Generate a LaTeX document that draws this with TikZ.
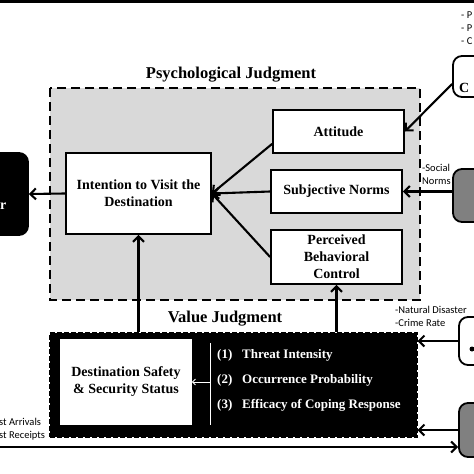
\documentclass[tikz,border=0pt]{standalone}
\usepackage{fontspec}
\setmainfont{Liberation Serif}
\newfontfamily\notefont{Carlito}
\usetikzlibrary{arrows.meta,calc}

\begin{document}
\begin{tikzpicture}[x=1pt,y=-1pt,
    box/.style={draw=black, line width=1.8pt, fill=white, align=center, inner sep=0pt,
      font=\fontsize{14}{17}\selectfont\bfseries},
    side/.style={draw=black, line width=1.8pt, rounded corners=9pt, inner sep=0pt},
    note/.style={align=left, inner sep=0pt, font=\notefont\fontsize{10.5}{12.8}\selectfont},
    title/.style={inner sep=0pt, font=\fontsize{16.5}{18}\selectfont\bfseries},
    link/.style={line width=2.1pt, -{Straight Barb[length=5.5pt,width=11pt]}}]
  \useasboundingbox (0,0) rectangle (474,474);
  \clip (0,0) rectangle (474,474);
  \fill[white] (0,0) rectangle (474,474);
  \fill[black] (0,0) rectangle (474,2.7);

  % psychological judgment
  \node[title] (psytitle) at (231,75) {Psychological Judgment};
  \draw[fill=gray!30, line width=1.8pt, dash pattern=on 9pt off 5pt] (50,88) rectangle (420,300);

  \node[box, minimum width=131pt, minimum height=43pt] (att) at (338.5,131.5) {Attitude};
  \node[box, minimum width=145pt, minimum height=81pt] (int) at (138.5,193.5) {Intention to Visit the\\Destination};
  \node[box, minimum width=131pt, minimum height=43pt] (sn) at (336.5,191.5) {Subjective Norms};
  \node[box, minimum width=131pt, minimum height=54pt] (pbc) at (336.5,257) {Perceived\\Behavioral\\Control};

  % value judgment
  \node[title] (valtitle) at (225,319) {Value Judgment};
  \node[draw=black, fill=black, line width=2pt, dash pattern=on 5pt off 2pt, inner sep=0pt,
    minimum width=367pt, minimum height=104pt] (val) at (233,385) {};
  \node[box, draw=white, minimum width=130pt, minimum height=85pt] (dss) at (126,382) {Destination Safety\\\& Security Status};
  \coordinate (septop) at (210,343);
  \coordinate (sepbot) at (210,425);
  \draw[white, line width=1pt] (septop) -- (sepbot);
  \draw[white, line width=0.8pt, -{Straight Barb[length=3pt,width=6pt]}] (septop |- dss.east) -- (dss.east);
  \node[anchor=west, text=white, align=left, inner sep=0pt,
    font=\fontsize{13}{25}\selectfont\bfseries] (items) at (217,380)
    {\makebox[25pt][l]{(1)}Threat Intensity\\
     \makebox[25pt][l]{(2)}Occurrence Probability\\
     \makebox[25pt][l]{(3)}Efficacy of Coping Response};

  % outer boxes
  \node[side, fill=black, minimum width=88pt, minimum height=82pt] (beh) at (-16,194) {};
  \node[anchor=east, text=white, inner sep=0pt, font=\fontsize{14}{17}\selectfont\bfseries] (behlabel) at (6.5,205) {Behavior};
  \node[side, fill=white, minimum width=87pt, minimum height=41pt] (cbox) at (496.5,76.5) {};
  \node[anchor=west, inner sep=0pt, font=\fontsize{14}{17}\selectfont\bfseries] (clabel) at (459,88) {C};
  \node[side, fill=black!50, minimum width=87pt, minimum height=53pt] (sbox) at (496.5,195.5) {};
  \node[side, fill=white, minimum width=81pt, minimum height=48pt] (nbox) at (499.5,341) {};
  \fill (472,349) circle (2.5pt);
  \node[side, fill=black!50, minimum width=81pt, minimum height=54pt] (tbox) at (499.5,430) {};

  % notes
  \node[note, anchor=north west] (cnotes) at (461,12) {- P\\- P\\- C};
  \node[note, anchor=north west] (snotes) at (422,164) {-Social\\Norms};
  \node[note, anchor=north west] (nnotes) at (395,306) {-Natural Disaster\\-Crime Rate};
  \node[note, anchor=north west] (tnotes) at (-25.5,418) {-Tourist Arrivals\\-Tourist Receipts};

  % links
  \draw[link] (int.west) -- (beh.east);
  \draw[link] ($(att.south west)+(0,-10)$) -- (int.east);
  \draw[link] (sn.west) -- (int.east);
  \draw[link] (pbc.west) -- (int.east);
  \draw[link] (int.south |- val.north) -- (int.south);
  \draw[link] (pbc.south |- val.north) -- (pbc.south);
  \draw[link] ($(cbox.south west)+(0,-14)$) -- (att.east);
  \draw[link] (sbox.west |- sn.east) -- (sn.east);
  \draw[link] (nbox.west) -- (nbox.west -| val.east);
  \draw[link] (tbox.west) -- (tbox.west -| val.east);
  \coordinate (tin) at (-5,447);
  \draw[link] (tin) -- (tin -| tbox.west);
\end{tikzpicture}
\end{document}
